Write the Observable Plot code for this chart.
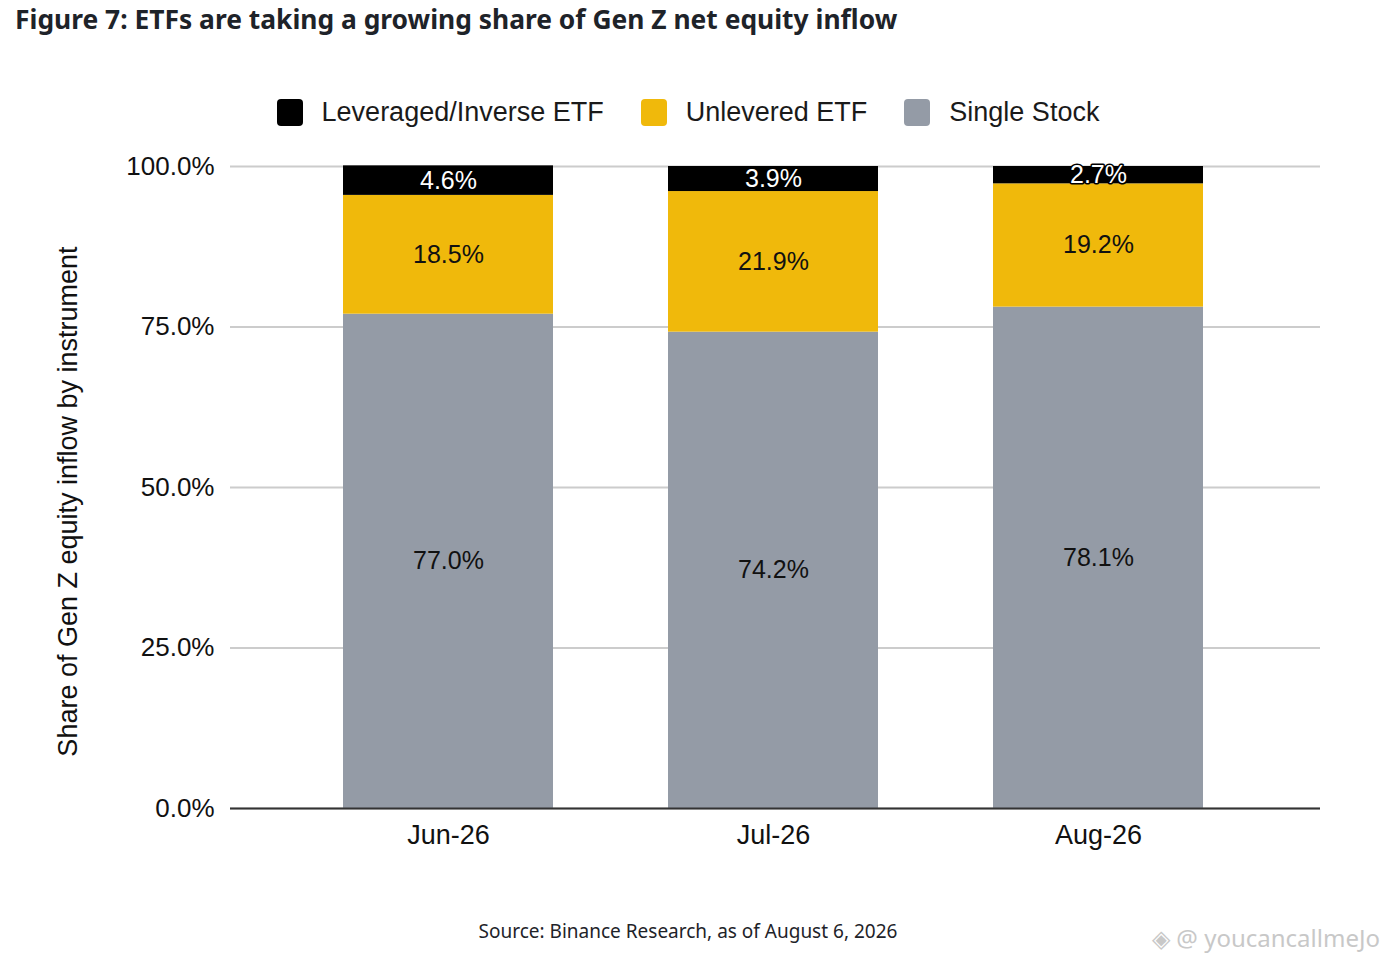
<!DOCTYPE html>
<html>
<head>
<meta charset="utf-8">
<script src="https://cdn.jsdelivr.net/npm/d3@7"></script>
<script src="https://cdn.jsdelivr.net/npm/@observablehq/plot@0.6"></script>
<style>
  html, body { margin: 0; padding: 0; background: #fff; }
  #wrap { position: relative; width: 1388px; height: 964px; overflow: hidden; }
  #title { position: absolute; left: 15px; top: 1px; font-family: "Noto Sans", sans-serif; font-weight: 700; font-size: 26.4px; color: #1e2329; line-height: 36px; white-space: nowrap; }
  #legend { position: absolute; left: 0; width: 1376px; top: 92px; height: 40px; display: flex; justify-content: center; align-items: center; font-family: "Liberation Sans", Arial, sans-serif; font-size: 27px; color: #1a1a1a; }
  .item { display: flex; align-items: center; margin: 0 18.5px; }
  .sw { width: 26px; height: 27px; border-radius: 4px; margin-right: 19px; }
  #chart { position: absolute; left: 0; top: 140px; }
  #source { position: absolute; left: 0; width: 1376px; top: 918px; text-align: center; font-family: "Noto Sans", sans-serif; font-size: 19px; color: #1e2329; }
  #wm { position: absolute; right: 8px; top: 921px; font-family: "Noto Sans", sans-serif; font-size: 24px; color: #c8c8c8; white-space: nowrap; }
</style>
</head>
<body>
<div id="wrap">
  <div id="title">Figure 7: ETFs are taking a growing share of Gen Z net equity inflow</div>
  <div id="legend"></div>
  <div id="chart"></div>
  <div id="source">Source: Binance Research, as of August 6, 2026</div>
  <div id="wm">◈ @ youcancallmeJo</div>
</div>
<script>
const months = ["Jun-26", "Jul-26", "Aug-26"];
const instruments = ["Single Stock", "Unlevered ETF", "Leveraged/Inverse ETF"];
const singleStock = [77.0, 74.2, 78.1];
const unlevered = [18.5, 21.9, 19.2];
const leveraged = [4.6, 3.9, 2.7];
const colors = ["#949ba6", "#f0b90b", "#000000"];
const yTicks = [0, 25, 50, 75, 100];
const legendOrder = ["Leveraged/Inverse ETF", "Unlevered ETF", "Single Stock"];

const series = [singleStock, unlevered, leveraged];
const data = [];
months.forEach((m, i) => {
  instruments.forEach((inst, j) => {
    data.push({ month: m, instrument: inst, value: series[j][i] });
  });
});

const colorOf = Object.fromEntries(instruments.map((d, i) => [d, colors[i]]));
const legend = document.getElementById("legend");
legendOrder.forEach(name => {
  const it = document.createElement("div");
  it.className = "item";
  it.innerHTML = `<span class="sw" style="background:${colorOf[name]}"></span><span>${name}</span>`;
  legend.appendChild(it);
});

const stackOpts = { x: "month", y: "value", z: "instrument", order: instruments };

const chart = Plot.plot({
  width: 1388,
  height: 740,
  marginLeft: 230,
  marginRight: 68,
  marginTop: 26,
  marginBottom: 72,
  style: { fontFamily: "'Liberation Sans', Arial, sans-serif", fontSize: "26px", color: "#111", background: "#fff" },
  x: { domain: months, range: [228, 1318], padding: 0.3538, align: 0.5, label: null },
  y: { domain: [0, 100], label: null },
  color: { domain: instruments, range: colors },
  marks: [
    Plot.gridY(yTicks, { stroke: "#cccccc", strokeOpacity: 1, strokeWidth: 2 }),
    Plot.barY(data, Plot.stackY({ ...stackOpts, fill: "instrument" })),
    Plot.ruleY([0], { stroke: "#333", strokeWidth: 2 }),
    Plot.text(data, Plot.stackY({
      ...stackOpts,
      text: d => d.value.toFixed(1) + "%",
      fill: d => d.instrument === "Leveraged/Inverse ETF" ? "#fff" : "#111",
      stroke: d => d.instrument === "Leveraged/Inverse ETF" ? "#000" : "none",
      strokeWidth: 3,
      fontSize: 25
    })),
    Plot.axisX({ tickSize: 0, tickPadding: 16, fontSize: 27, label: null }),
    Plot.axisY(yTicks, {
      tickSize: 0, tickPadding: 16,
      tickFormat: d => d.toFixed(1) + "%",
      label: "Share of Gen Z equity inflow by instrument",
      labelAnchor: "center", labelArrow: "none", labelOffset: 173,
      fontSize: 26
    })
  ]
});
// y-axis title: slightly larger and a little lower, as in the reference
chart.querySelectorAll("g[aria-label='y-axis label']").forEach(g => {
  g.setAttribute("font-size", "27");
  g.querySelectorAll("text").forEach(t => t.setAttribute("font-size", "27"));
  const old = g.getAttribute("transform") || "";
  g.setAttribute("transform", ("translate(0,14) " + old).trim());
});
document.getElementById("chart").appendChild(chart);
</script>
</body>
</html>
